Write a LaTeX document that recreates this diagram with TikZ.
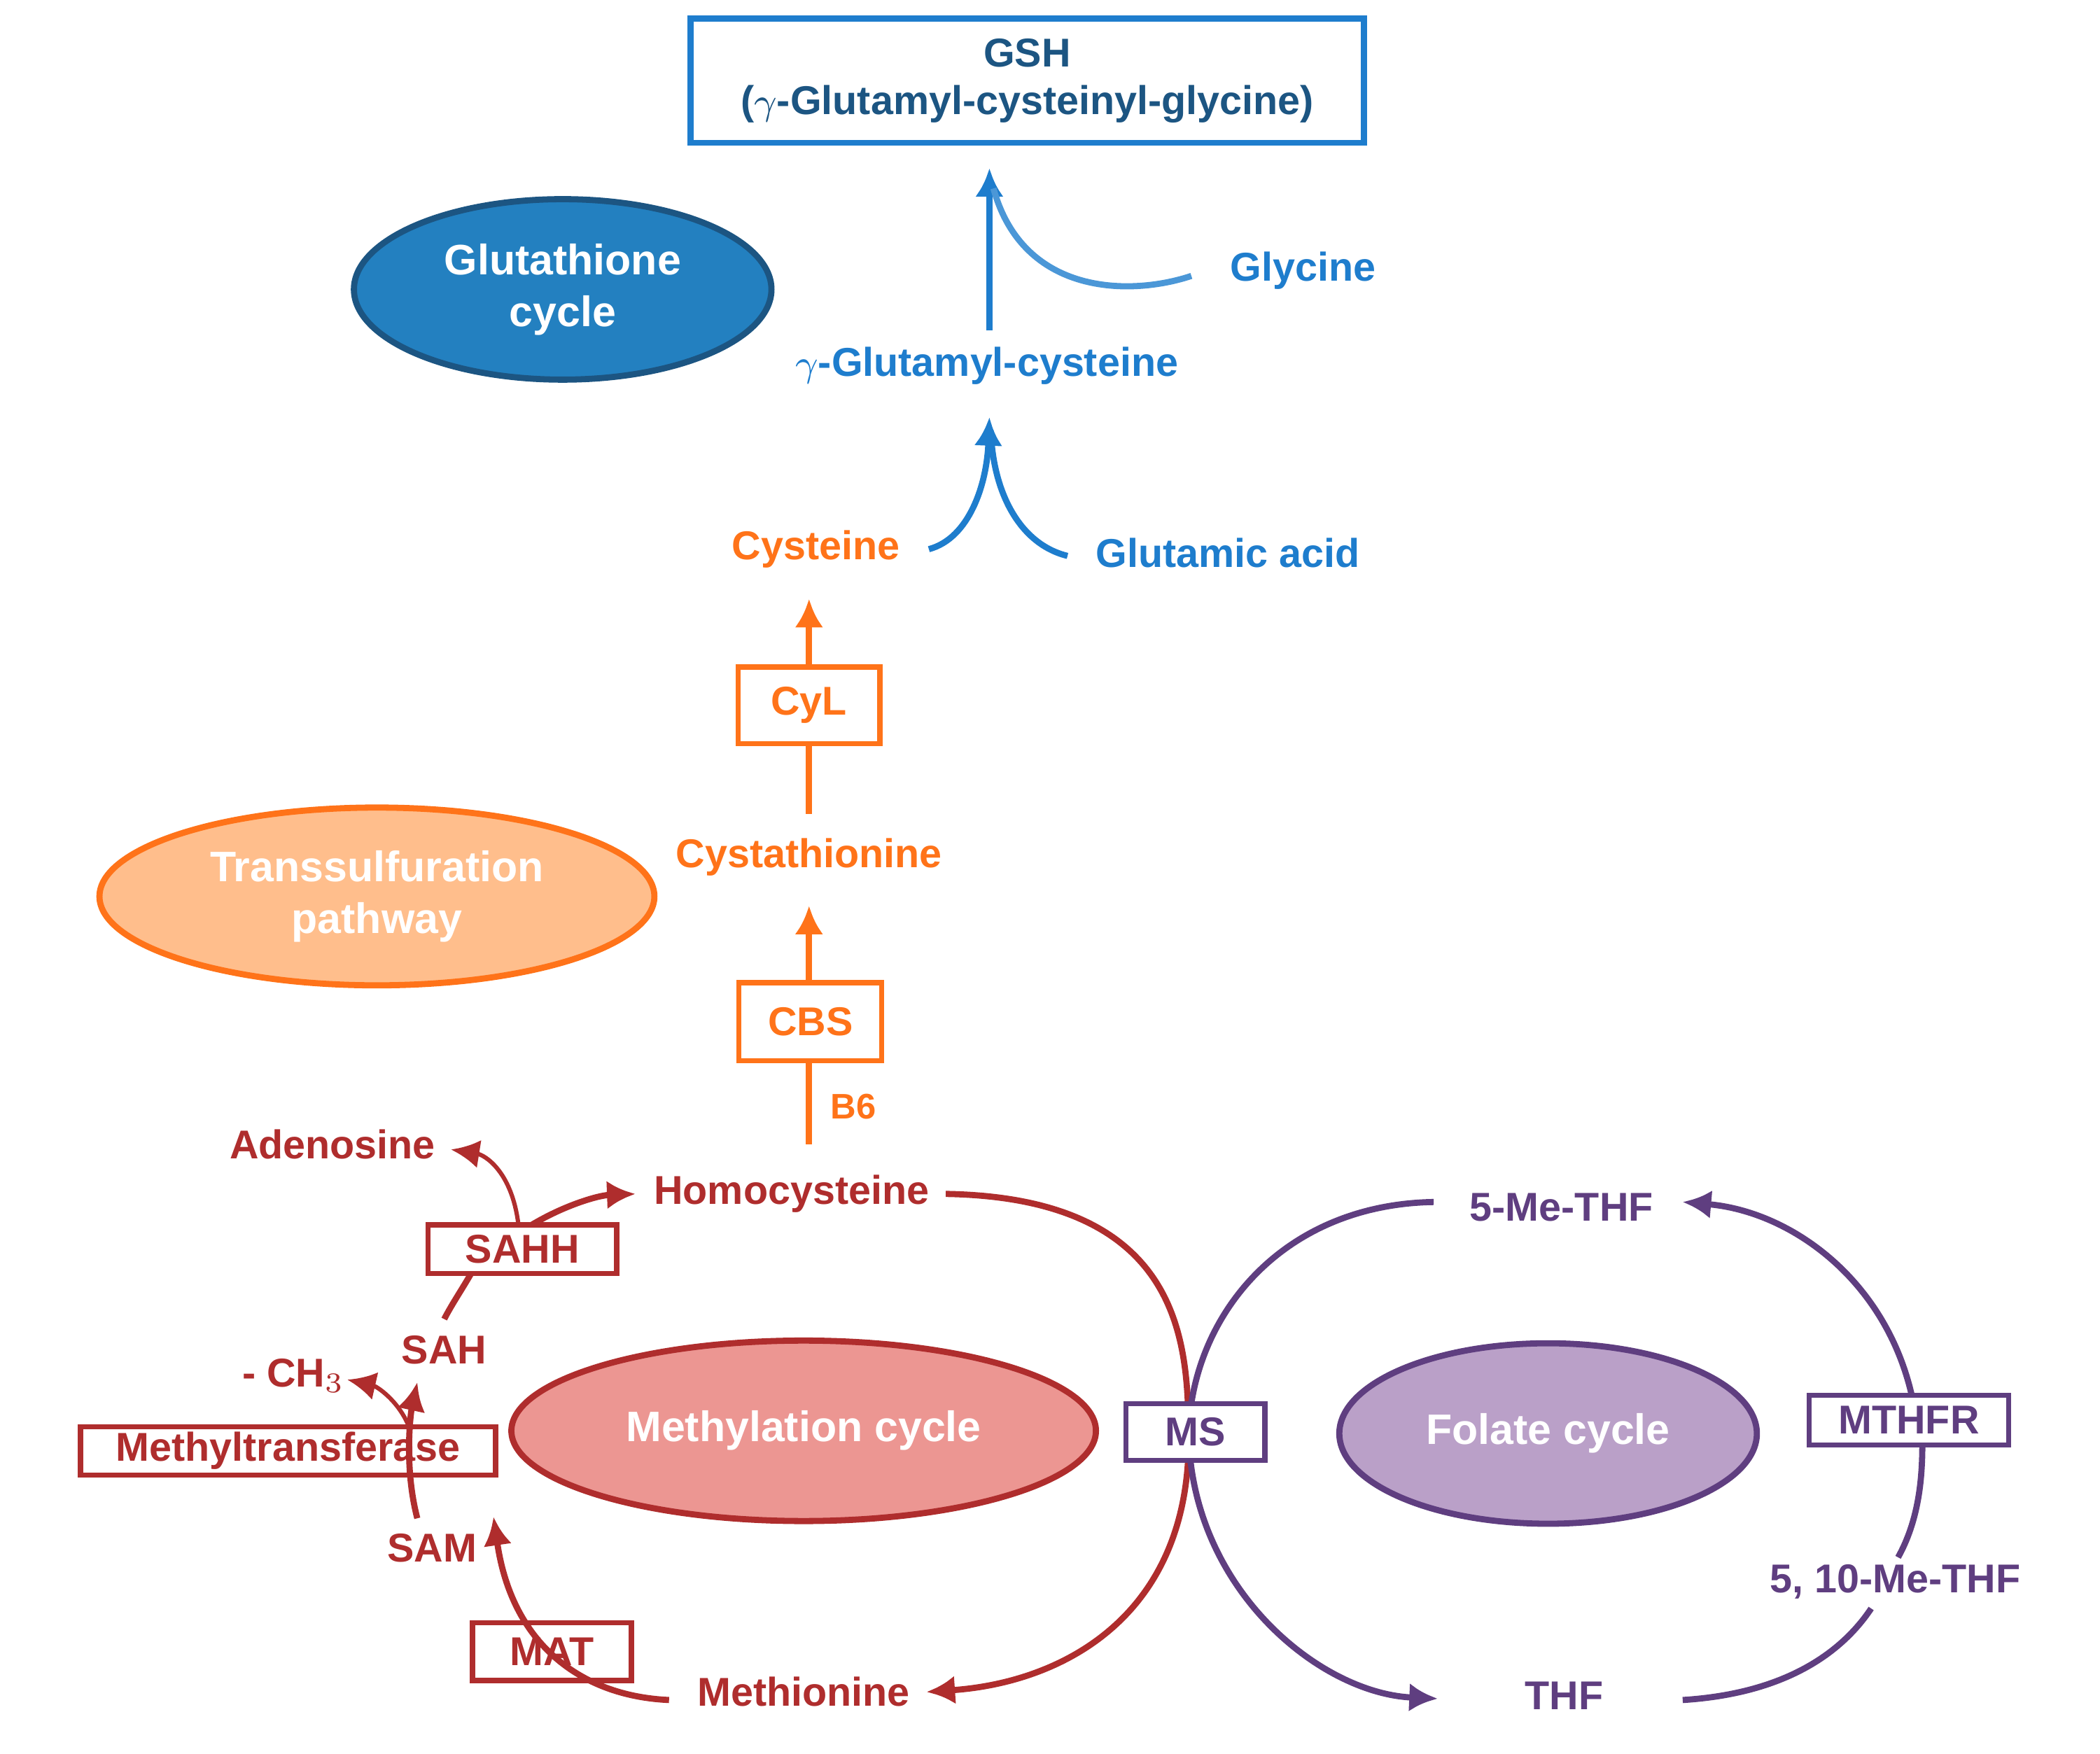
\documentclass[tikz,border=0pt]{standalone}
\usepackage{fontspec}
\setmainfont{Liberation Sans}
\usetikzlibrary{arrows.meta,shapes.geometric}
\definecolor{gsblue}{RGB}{30,125,205}
\definecolor{gsdark}{RGB}{28,85,130}
\definecolor{gsfill}{RGB}{35,128,192}
\definecolor{tsor}{RGB}{255,115,25}
\definecolor{tsfill}{RGB}{255,190,140}
\definecolor{mered}{RGB}{175,45,45}
\definecolor{mefill}{RGB}{236,150,146}
\definecolor{fopur}{RGB}{95,62,128}
\definecolor{fofill}{RGB}{186,160,200}
\tikzset{
  lbl/.style={font=\fontsize{8.5}{10}\selectfont\bfseries},
  enz/.style={draw, line width=1.1pt, fill=white, font=\fontsize{8.5}{10}\selectfont\bfseries, inner sep=0pt},
  cyc/.style={ellipse, line width=1.3pt, text=white, align=center, font=\fontsize{9}{11}\selectfont\bfseries, inner sep=0pt},
  flow/.style={line width=1.3pt},
  tip/.style={-{Latex[length=6pt,width=6pt]}}
}
\begin{document}
\begin{tikzpicture}[x=0.01cm,y=-0.01cm]
        \useasboundingbox (0,0) rectangle (1560,1303);

        % Glutathione
        \node[draw=gsblue, line width=1.3pt, minimum width=5cm, minimum height=0.92cm, align=center, text=gsdark, lbl] (gsh) at (763,60) {GSH\\($\gamma$-Glutamyl-cysteinyl-glycine)};
        \node[cyc, draw=gsdark, fill=gsfill, minimum width=3.1cm, minimum height=1.34cm] (gcyc) at (418,215) {Glutathione\\cycle};
        \node[lbl, text=gsblue] (gly) at (968,201) {Glycine};
        \node[lbl, text=gsblue] (gglu) at (733,272) {$\gamma$-Glutamyl-cysteine};
        \node[lbl, text=gsblue] (glu) at (912,411) {Glutamic acid};
        \coordinate (j1) at (735,125);
        \coordinate (j2) at (735,310);
        \draw[flow, gsblue, tip] (gglu.north -| j1) -- (j1);
        \draw[flow, gsblue!80] (738,140) .. controls (760,220) and (840,220) .. (885,205);
        \draw[flow, gsblue, tip] (690,408) .. controls (720,400) and (733,360) .. (j2);
        \draw[flow, gsblue] (793,413) .. controls (760,405) and (738,370) .. (736,320);

        % Transsulfuration
        \node[cyc, draw=tsor, fill=tsfill, minimum width=4.12cm, minimum height=1.32cm] (tcyc) at (280,666) {Transsulfuration\\pathway};
        \node[lbl, text=tsor] (cys) at (606,408) {Cysteine};
        \node[enz, draw=tsor, text=tsor, minimum width=1.05cm, minimum height=0.57cm] (cyl) at (601,524) {CyL};
        \node[lbl, text=tsor] (cth) at (601,637) {Cystathionine};
        \node[enz, draw=tsor, text=tsor, minimum width=1.06cm, minimum height=0.58cm] (cbs) at (602,759) {CBS};
        \node[lbl, text=tsor, font=\fontsize{7.5}{9}\selectfont\bfseries] (b6) at (634,822) {B6};
        \draw[flow, tsor, tip] (cyl.north -| 601,0) -- (601,445);
        \draw[flow, tsor] (cyl.south -| 601,0) -- (601,605);
        \draw[flow, tsor, tip] (cbs.north -| 601,0) -- (601,673);
        \draw[flow, tsor] (cbs.south -| 601,0) -- (601,850);

        % Methylation cycle
        \node[cyc, draw=mered, fill=mefill, minimum width=4.34cm, minimum height=1.34cm] (mcyc) at (597,1063) {Methylation cycle};
        \node[lbl, text=mered] (hcy) at (588,887) {Homocysteine};
        \node[lbl, text=mered] (met) at (597,1257) {Methionine};
        \node[lbl, text=mered] (ado) at (247,850) {Adenosine};
        \node[lbl, text=mered] (sah) at (330,1003) {SAH};
        \node[lbl, text=mered] (ch3) at (218,1022) {- CH$_3$};
        \node[lbl, text=mered] (sam) at (321,1150) {SAM};
        \node[enz, draw=mered, text=mered, minimum width=1.4cm, minimum height=0.36cm] (sahh) at (388,928) {SAHH};
        \node[enz, draw=mered, text=mered, minimum width=3.08cm, minimum height=0.36cm] (mtr) at (214,1078) {Methyltransferase};
        \node[enz, draw=mered, text=mered, minimum width=1.18cm, minimum height=0.43cm] (mat) at (410,1227) {MAT};
        \draw[flow, mered, tip] (497,1263) .. controls (430,1260) and (380,1220) .. (sam.north east);
        \draw[flow, mered, tip] (310,1128) .. controls (300,1090) and (305,1050) .. (310,1027);
        \draw[mered, line width=0.9pt, tip] (303,1058) .. controls (295,1040) and (280,1030) .. (258,1025);
        \draw[flow, mered] (sah.north) .. controls (335,970) and (345,955) .. (350,946);
        \draw[flow, mered, tip] (395,910) .. controls (420,895) and (445,888) .. (472,887);
        \draw[mered, line width=0.9pt, tip] (385,909) .. controls (380,870) and (360,858) .. (335,854);
        \draw[flow, mered, tip] (hcy.east) .. controls (880,890) and (882,1000) .. (883,1065)
                .. controls (885,1200) and (790,1250) .. (met.east);

        % Folate cycle
        \node[cyc, draw=fopur, fill=fofill, minimum width=3.1cm, minimum height=1.34cm] (fcyc) at (1150,1065) {Folate cycle};
        \node[lbl, text=fopur] (mthf) at (1160,897) {5-Me-THF};
        \node[lbl, text=fopur] (thf) at (1162,1260) {THF};
        \node[lbl, text=fopur] (mthf2) at (1408,1175) {5, 10-Me-THF};
        \node[enz, draw=fopur, text=fopur, minimum width=1.48cm, minimum height=0.37cm] (mthfr) at (1418,1055) {MTHFR};
        \draw[flow, fopur, tip] (1065,893) .. controls (950,895) and (885,980) .. (883,1065)
                .. controls (885,1180) and (980,1258) .. (1068,1262);
        \draw[flow, fopur] (1250,1263) .. controls (1330,1258) and (1370,1225) .. (1390,1195);
        \draw[flow, fopur] (1410,1157) .. controls (1425,1130) and (1428,1100) .. (1428,1073);
        \draw[flow, fopur, tip] (1420,1036) .. controls (1400,950) and (1330,900) .. (1250,893);
        \node[enz, draw=fopur, text=fopur, minimum width=1.03cm, minimum height=0.42cm] (ms) at (888,1064) {MS};
\end{tikzpicture}
\end{document}
